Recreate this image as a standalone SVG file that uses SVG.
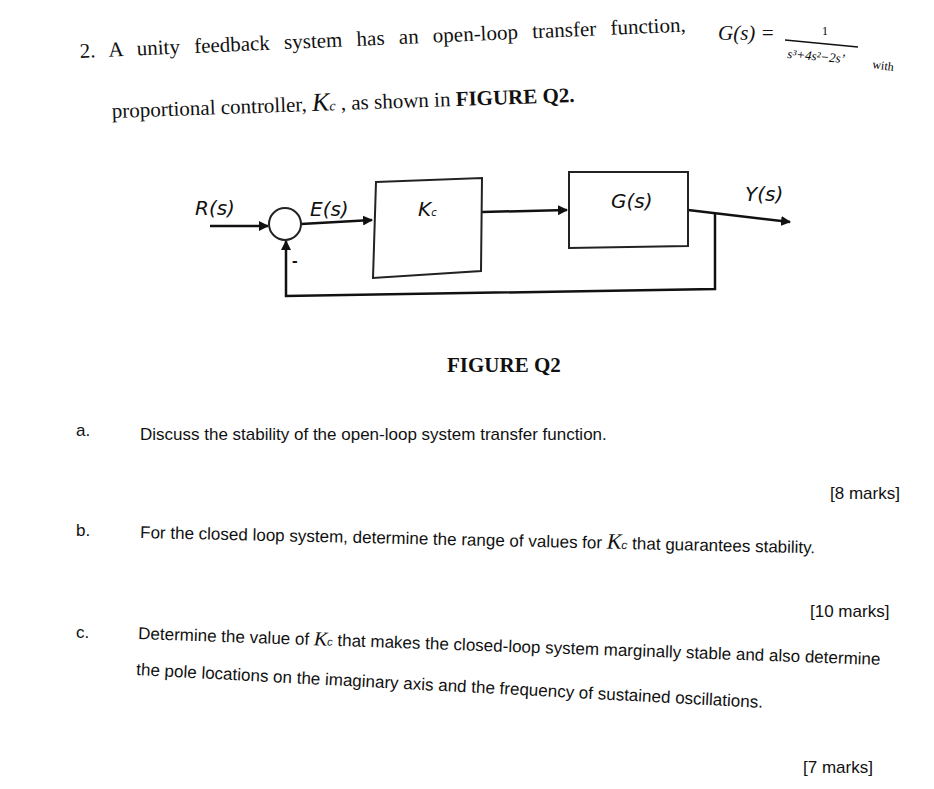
<svg xmlns="http://www.w3.org/2000/svg" width="934" height="789" viewBox="0 0 934 789">
<style>
.t{font-family:"Liberation Serif",serif;font-size:21px;fill:#111}
.b{font-family:"Liberation Sans",sans-serif;font-size:17px;fill:#111}
.d{font-family:"DejaVu Sans",sans-serif;font-style:italic;font-size:20px;fill:#111}
.ln{stroke:#111;stroke-width:2.5;fill:none}
.bx{stroke:#222;stroke-width:2;fill:#fff}
</style>
<defs><marker id="a" markerWidth="10" markerHeight="10" refX="9" refY="5" orient="auto" markerUnits="userSpaceOnUse"><path d="M0,0L10,5L0,10z" fill="#111"/></marker></defs>
<rect width="934" height="789" fill="#fff"/>
<text class="t" x="80" y="58" transform="rotate(-2.5 80 58)" font-size="22" word-spacing="9">2. A unity feedback system has an open-loop transfer function,</text>
<text class="t" x="718" y="40" font-style="italic" font-size="23">G(s) =</text>
<text x="822" y="35" font-family="Liberation Serif,serif" font-size="12">1</text>
<line x1="785" y1="40" x2="858" y2="47" stroke="#111" stroke-width="1.3"/>
<text x="787" y="58" font-family="Liberation Serif,serif" font-style="italic" font-size="13" transform="rotate(5 787 58)">s³+4s²−2s’</text>
<text x="872" y="68" font-family="Liberation Serif,serif" font-size="12" transform="rotate(8 872 68)">with</text>
<text class="t" x="112" y="118" transform="rotate(-2 112 118)">proportional controller, <tspan font-style="italic" font-size="26">K</tspan><tspan font-style="italic" font-size="14">c</tspan> , as shown in <tspan font-weight="bold">FIGURE Q2.</tspan></text>
<g id="connectors">
<path class="ln" d="M210,226 H268" marker-end="url(#a)"/>
<path class="ln" d="M301,224 L372,220" marker-end="url(#a)"/>
<path class="ln" d="M482,212 L567,210" marker-end="url(#a)"/>
<path class="ln" d="M688,210 L790,222" marker-end="url(#a)"/>
<path class="ln" d="M715,213 V289 L286,296 V241" marker-end="url(#a)"/>
</g>
<g id="sum"><circle class="bx" cx="285" cy="224" r="16"/><text class="b" x="292" y="266" font-weight="bold">-</text></g>
<g id="kc"><path class="bx" d="M376,182 L482,178 L481,271 L373,278 Z"/><text class="d" x="418" y="216" font-size="15">K<tspan font-size="10">c</tspan></text></g>
<g id="gs"><path class="bx" d="M569,172 L688,172 L688,246 L569,248 Z"/><text class="d" x="611" y="208">G(s)</text></g>
<text class="d" x="195" y="215">R(s)</text>
<text class="d" x="310" y="216">E(s)</text>
<text class="d" x="745" y="201">Y(s)</text>
<text class="t" x="447" y="372" font-weight="bold" font-size="18">FIGURE Q2</text>
<text class="b" x="76" y="436">a.</text>
<text class="b" x="140" y="440">Discuss the stability of the open-loop system transfer function.</text>
<text class="b" x="830" y="499">[8 marks]</text>
<text class="b" x="76" y="536">b.</text>
<text class="b" x="140" y="538" transform="rotate(1.3 140 538)">For the closed loop system, determine the range of values for <tspan font-family="Liberation Serif,serif" font-style="italic" font-size="22">K</tspan><tspan font-style="italic" font-size="12">c</tspan>  that guarantees stability.</text>
<text class="b" x="810" y="617">[10 marks]</text>
<text class="b" x="76" y="638">c.</text>
<text class="b" x="138" y="639" transform="rotate(2 138 639)" font-size="16">Determine the value of <tspan font-family="Liberation Serif,serif" font-style="italic" font-size="20">K</tspan><tspan font-style="italic" font-size="11">c</tspan> that makes the closed-loop system marginally stable and also determine</text>
<text class="b" x="136" y="675" transform="rotate(3 136 675)" font-size="15.5">the pole locations on the imaginary axis and the frequency of sustained oscillations.</text>
<text class="b" x="803" y="773">[7 marks]</text>
</svg>
